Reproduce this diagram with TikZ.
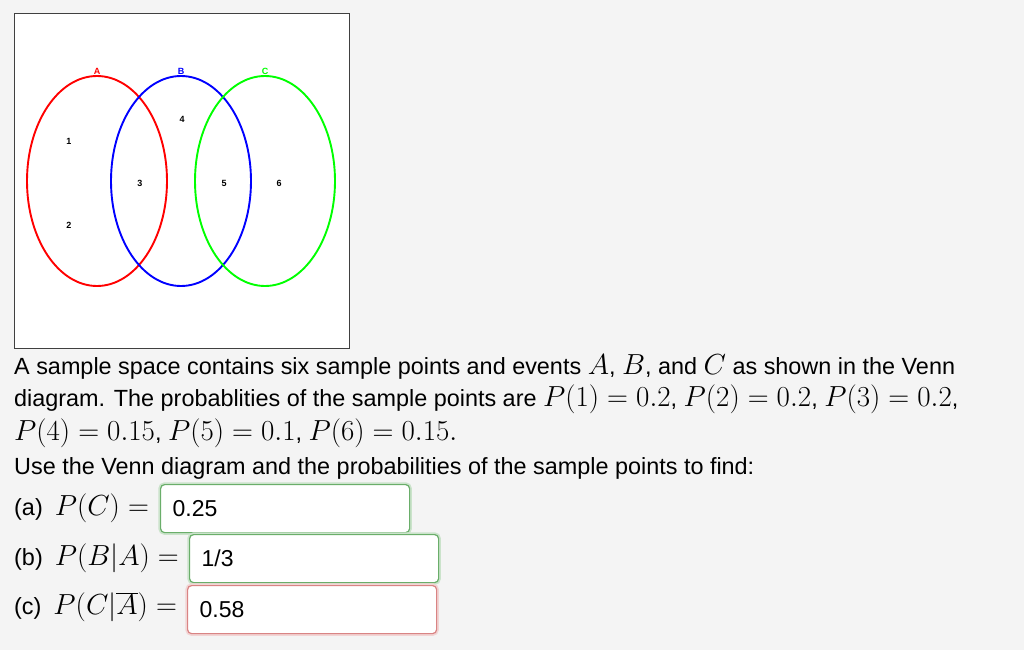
\RequirePackage{fix-cm}
\documentclass[tikz,border=0pt]{standalone}
\usepackage[no-math]{fontspec}
\setmainfont{Liberation Sans}
\usetikzlibrary{positioning}
\definecolor{pagebg}{HTML}{F4F4F4}
\definecolor{okline}{HTML}{6AAE6A}
\definecolor{badline}{HTML}{D98484}
\newcommand{\km}[1]{{\fontsize{29}{33}\selectfont$#1$}}
\begin{document}
\begin{tikzpicture}[x=1pt, y=-1pt,
    txt/.style={anchor=base west, inner sep=0pt, font=\fontsize{23.4}{27}\selectfont},
    ans/.style={anchor=north west, draw=#1, line width=1.2pt, rounded corners=4pt, fill=white,
        minimum width=249pt, minimum height=48pt, text width=225pt, inner xsep=12pt, align=left,
        font=\fontsize{23}{27}\selectfont, preaction={draw=#1!35, line width=4.5pt}},
    pt/.style={font=\fontsize{9}{10}\selectfont\bfseries, inner sep=0pt}]
    \useasboundingbox[fill=pagebg] (0,0) rectangle (1024,650);
    \draw[fill=white, draw=black!75, line width=1pt] (14,14) rectangle (349,348);

    % the three events
    \draw[red, line width=1.9pt] (97,181) ellipse (70 and 105);
    \draw[blue, line width=1.9pt] (181,181) ellipse (70 and 105);
    \draw[green, line width=1.9pt] (265,181) ellipse (70 and 105);
    \node[pt, red] (labA) at (97,71) {A};
    \node[pt, blue] (labB) at (181,71) {B};
    \node[pt, green] (labC) at (265,71) {C};

    \node[pt] (p1) at (69,141) {1};
    \node[pt] (p2) at (69,225) {2};
    \node[pt] (p3) at (140,183) {3};
    \node[pt] (p4) at (182,119) {4};
    \node[pt] (p5) at (224,183) {5};
    \node[pt] (p6) at (279,183) {6};

    % question text
    \node[txt] (line1) at (14,374) {A sample space contains six sample points and events \km{A}, \km{B}, and \km{C} as shown in the Venn};
    \node[txt] (line2) at (14,406) {diagram. The probablities of the sample points are \km{P(1)=0.2}, \km{P(2)=0.2}, \km{P(3)=0.2},};
    \node[txt] (line3) at (14,440) {\km{P(4)=0.15}, \km{P(5)=0.1}, \km{P(6)=0.15.}};
    \node[txt] (line4) at (14,474) {Use the Venn diagram and the probabilities of the sample points to find:};

    \node[txt] (qa) at (14,515) {(a)\hspace{12pt}\km{P(C)=}};
    \node[txt] (qb) at (14,565) {(b)\hspace{12pt}\km{P(B|A)=}};
    \node[txt] (qc) at (14,614) {(c)\hspace{12pt}\km{P(C|\overline{A})=}};

    \node[ans=okline] (ansa) at (160,484) {0.25};
    \node[ans=okline] (ansb) at (189,534) {1/3};
    \node[ans=badline] (ansc) at (187,585) {0.58};
\end{tikzpicture}
\end{document}
